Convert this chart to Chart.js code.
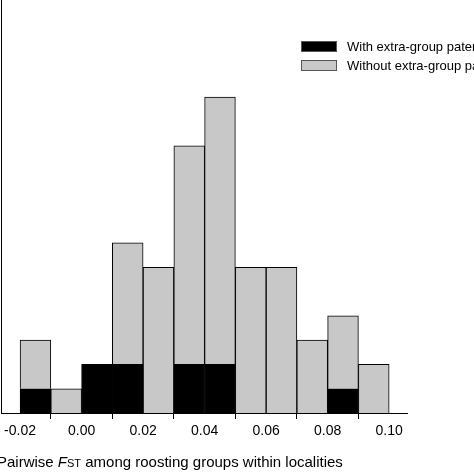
<!DOCTYPE html>
<html><head>
<script src="https://cdn.jsdelivr.net/npm/chart.js@4/dist/chart.umd.min.js"></script>
<style>body{margin:0;background:#fff}#c{display:block}</style>
</head><body>
<canvas id="c" width="474" height="474" style="width:474px;height:474px"></canvas>
<script>
// bin centres (bins of width 0.01 from -0.02 to 0.10)
const binCenters = [-0.015, -0.005, 0.005, 0.015, 0.025, 0.035, 0.045, 0.055, 0.065, 0.075, 0.085, 0.095];
const withExtra = [1, 0, 2, 2, 0, 2, 2, 0, 0, 0, 1, 0];
const withoutExtra = [2, 1, 0, 5, 6, 9, 11, 6, 6, 3, 3, 2];
const tickVals = [-0.02, 0, 0.02, 0.04, 0.06, 0.08, 0.10];
const legendLabels = ['With extra-group paternity', 'Without extra-group paternity'];
const colors = ['#000000', '#c8c8c8'];

const FONT = 'Liberation Sans, Arial, sans-serif';

const extras = {
    id: 'extras',
    afterDraw(chart) {
        const c = chart.ctx;
        c.save();
        // legend
        legendLabels.forEach((lab, i) => {
            const y = 41 + i * 19;
            c.fillStyle = colors[i];
            c.fillRect(301, y, 36, 11);
            c.strokeStyle = '#555';
            c.lineWidth = 1;
            c.strokeRect(301.5, y + 0.5, 35, 10);
            c.fillStyle = '#000';
            c.font = '13px ' + FONT;
            c.textBaseline = 'middle';
            c.fillText(lab, 347, y + 6);
        });
        // axis title with italic F and small ST
        let x = -3;
        const y = 463;
        c.textBaseline = 'middle';
        c.font = '15px ' + FONT;
        c.fillText('Pairwise ', x, y); x += c.measureText('Pairwise ').width;
        c.font = 'italic 15px ' + FONT;
        c.fillText('F', x, y); x += c.measureText('F').width;
        c.font = '11px ' + FONT;
        c.fillText('ST', x, y + 1); x += c.measureText('ST').width;
        c.font = '15px ' + FONT;
        c.fillText(' among roosting groups within localities', x, y);
        c.restore();
    }
};

new Chart(document.getElementById('c'), {
    type: 'bar',
    data: {
        datasets: [
            {
                label: legendLabels[0],
                data: binCenters.map((x, i) => ({ x: x, y: withExtra[i] })),
                backgroundColor: colors[0],
                borderColor: '#000',
                borderWidth: 1
            },
            {
                label: legendLabels[1],
                data: binCenters.map((x, i) => ({ x: x, y: withoutExtra[i] })),
                backgroundColor: colors[1],
                borderColor: '#000',
                borderWidth: 1
            }
        ]
    },
    options: {
        responsive: false,
        animation: false,
        barPercentage: 1,
        categoryPercentage: 1,
        layout: { padding: { left: 0, right: 67, top: 0, bottom: 0 } },
        plugins: { legend: { display: false }, tooltip: { enabled: false } },
        scales: {
            x: {
                type: 'linear',
                stacked: true,
                offset: false,
                min: -0.0262,
                max: 0.1058,
                afterBuildTicks: s => { s.ticks = tickVals.map(v => ({ value: v })); },
                afterFit: s => { s.height = 61; },
                grid: { drawOnChartArea: false, tickLength: 6, color: '#000' },
                border: { color: '#000', width: 1 },
                ticks: {
                    color: '#000',
                    font: { size: 14, family: FONT },
                    padding: 4,
                    maxRotation: 0,
                    autoSkip: false,
                    callback: v => v.toFixed(2)
                }
            },
            y: {
                stacked: true,
                min: 0,
                max: 17,
                afterFit: s => { s.width = 1; },
                grid: { display: false },
                border: { color: '#000', width: 1 },
                ticks: { display: false }
            }
        }
    },
    plugins: [extras]
});
</script>
</body></html>
